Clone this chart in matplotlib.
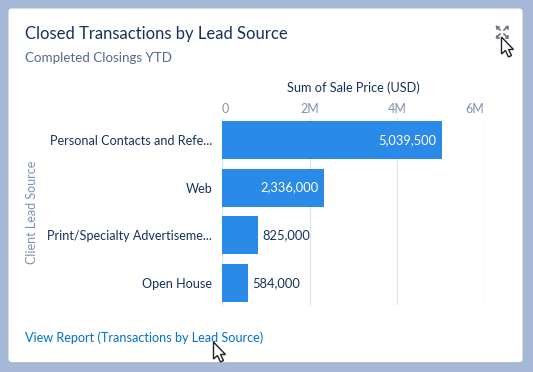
import matplotlib
matplotlib.use('Agg')
import matplotlib.pyplot as plt
from matplotlib.patches import FancyBboxPatch, Polygon

W, H = 533, 372

categories = ['Personal Contacts and Refe...', 'Web', 'Print/Specialty Advertiseme...', 'Open House']
values = [5039500, 2336000, 825000, 584000]
value_labels = ['5,039,500', '2,336,000', '825,000', '584,000']
inside_label = [True, True, False, False]
tick_values = [0, 2000000, 4000000, 6000000]
tick_labels = ['0', '2M', '4M', '6M']

plt.rcParams['font.family'] = ['Lato', 'DejaVu Sans']

NAVY = '#16325c'
SLATE = '#54698d'
AXIS_GREY = '#7f92ae'
BLUE = '#2a8ae8'
GRID = '#dde5ef'


def cursor(bg, x, y):
    # arrow pointer, pixel coords from its tip
    shape = [(0, 0), (0, 17), (4, 13.5), (7, 20), (10, 18.5), (7, 12.5), (12, 12.5)]
    pts = [(x + px, y + py) for px, py in shape]
    bg.add_patch(Polygon(pts, closed=True, facecolor='white', edgecolor='#222222', linewidth=1.0, zorder=10))


fig = plt.figure(figsize=(W / 100, H / 100), dpi=100, facecolor='#a5b9d7')

# background layer in pixel coordinates
bg = fig.add_axes([0, 0, 1, 1])
bg.set_xlim(0, W)
bg.set_ylim(H, 0)
bg.axis('off')
bg.add_patch(FancyBboxPatch((9.5, 9.5), 513, 353, boxstyle='round,pad=0,rounding_size=3',
                            facecolor='#c3c8cf', edgecolor='none'))
bg.add_patch(FancyBboxPatch((8.5, 8.5), 514, 353.5, boxstyle='round,pad=0,rounding_size=3',
                            facecolor='white', edgecolor='none'))

bg.text(25, 34, 'Closed Transactions by Lead Source', fontsize=11.95, color=NAVY, va='center', ha='left')
bg.text(25, 58.5, 'Completed Closings YTD', fontsize=9.65, color=SLATE, va='center', ha='left')
bg.text(353, 87.5, 'Sum of Sale Price (USD)', fontsize=9.15, color=NAVY, va='center', ha='center')
bg.text(31.5, 212, 'Client Lead Source', fontsize=9.0, color=AXIS_GREY, va='center', ha='center', rotation=90)
bg.text(25, 337.5, 'View Report (Transactions by Lead Source)', fontsize=9.07, color='#0070d2', va='center', ha='left')

# expand icon
for sx, sy in [(-1, -1), (1, -1), (-1, 1), (1, 1)]:
    cx, cy = 502, 32
    bg.plot([cx + sx * 2, cx + sx * 5.5], [cy + sy * 2, cy + sy * 5.5], color='#6b7480', lw=1.2)
    bg.plot([cx + sx * 3.5, cx + sx * 5.5, cx + sx * 5.5],
            [cy + sy * 5.5, cy + sy * 5.5, cy + sy * 3.5], color='#6b7480', lw=1.2)

ax = fig.add_axes([222 / W, 1 - 305 / H, (484.5 - 222) / W, (305 - 118) / H])
ax.patch.set_alpha(0)
ax.barh(range(len(values)), values, height=0.8, color=BLUE, zorder=3)
ax.set_xlim(0, 6000000)
ax.set_ylim(3.46, -0.46)

ax.xaxis.tick_top()
ax.set_xticks(tick_values)
ax.set_xticklabels(tick_labels, fontsize=9, color=AXIS_GREY)
ax.get_xticklabels()[0].set_ha('left')
ax.get_xticklabels()[-1].set_ha('right')
ax.set_yticks(range(len(categories)))
ax.set_yticklabels(categories, fontsize=9.1, color=NAVY)
ax.tick_params(axis='both', length=0)
ax.tick_params(axis='x', pad=2.5)
ax.tick_params(axis='y', pad=7)
ax.grid(axis='x', color=GRID, linewidth=1, zorder=0)
for side in ax.spines:
    ax.spines[side].set_visible(False)
ax.spines['left'].set_visible(True)
ax.spines['left'].set_color(GRID)

for i, v in enumerate(values):
    if inside_label[i]:
        ax.annotate(value_labels[i], (v, i), xytext=(-4.3, 0), textcoords='offset points',
                    ha='right', va='center', fontsize=9.3, color='white', zorder=4)
    else:
        ax.annotate(value_labels[i], (v, i), xytext=(3.2, 0), textcoords='offset points',
                    ha='left', va='center', fontsize=9.3, color=NAVY, zorder=4)

# mouse pointers on top of everything
top = fig.add_axes([0, 0, 1, 1])
top.set_xlim(0, W)
top.set_ylim(H, 0)
top.axis('off')
cursor(top, 501.5, 37)
cursor(top, 213.5, 342)

fig.savefig('out.png', dpi=100, facecolor=fig.get_facecolor())
